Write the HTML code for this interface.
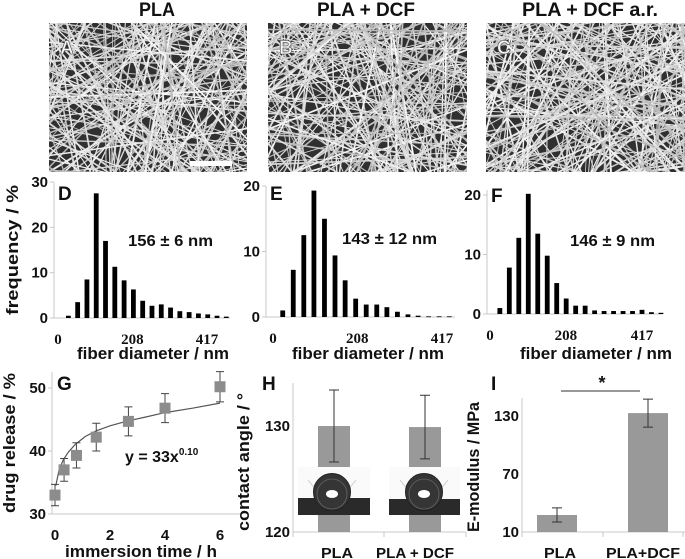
<!DOCTYPE html>
<html><head><meta charset="utf-8">
<style>
html,body{margin:0;padding:0;background:#fff;}
svg{display:block;}
text{font-family:"Liberation Sans Narrow","Liberation Sans",Arial,sans-serif;font-weight:bold;fill:#111;}
.serif{font-family:"Liberation Serif",serif;font-weight:bold;}
</style></head>
<body>
<svg id="fig" width="685" height="559" viewBox="0 0 685 559" xmlns="http://www.w3.org/2000/svg">
<defs>
<clipPath id="cA"><rect x="49" y="23" width="198" height="149"/></clipPath>
<clipPath id="cB"><rect x="268" y="23" width="199" height="149"/></clipPath>
<clipPath id="cC"><rect x="486" y="23" width="199" height="149"/></clipPath>
</defs>
<text x="157" y="16" font-size="19" text-anchor="middle" textLength="36" lengthAdjust="spacingAndGlyphs">PLA</text>
<text x="366" y="16" font-size="19" text-anchor="middle" textLength="98" lengthAdjust="spacingAndGlyphs">PLA + DCF</text>
<text x="590" y="16" font-size="19" text-anchor="middle" textLength="136" lengthAdjust="spacingAndGlyphs">PLA + DCF a.r.</text>
<g id="sem"></g>
<g id="charts"></g>
</svg>
<script>
// ---------- data ----------
const dBins=[29,55,81,107,133,159,185,211,237,263,289,315,341,367,393,419,445,471];
const dFreq=[0.5,3.5,8.5,27.5,17,11.3,8.3,6.3,3.8,2.7,3,2.3,1.5,1.3,1,0.8,0.5,0.3];
const eBins=[24,50,76,101,127,153,178,204,230,256,281,307,333,358,384,410,435];
const eFreq=[1,7.2,12.5,19.3,15,9.4,5.6,2.8,1.9,1.9,1.5,0.8,0.4,0.2,0.1,0.1,0.1];
const fBins=[27,53,79,105,131,157,183,209,235,261,287,313,339,365,391,417,443,469];
const fFreq=[1,7.8,12.8,20.2,13.5,9.8,5.2,2.6,1.4,1.4,0.6,0.5,0.5,0.5,0.5,0.7,0.3,0.2];
const histTicksX=[0,208,417];
const gTime=[0,0.33,0.78,1.5,2.67,4,6];
const gRelease=[33,37,39.3,42.2,44.7,46.8,50.2];
const gErr=[1.7,1.8,2,2.2,2.3,2.3,2.4];
const gFitT=[0.03,0.15,0.3,0.5,0.75,1.1,1.5,2,2.67,3.3,4,5,6];
const gFitY=[34.5,37,38.6,39.9,41.1,42.3,43.2,44,44.8,45.4,46.1,46.8,47.6];
const gTicksY=[30,40,50];
const gTicksX=[0,2,4,6];
const hCats=["PLA","PLA + DCF"];
const hVals=[130,129.9];
const hErr=[3.4,3];
const hTicksY=[120,130];
const iCats=["PLA","PLA+DCF"];
const iVals=[27.6,133];
const iErr=[7.3,14.5];
const iTicksY=[10,70,130];

const NS="http://www.w3.org/2000/svg";
const root=document.getElementById('charts');
function mk(tag,attrs,parent,txt){const e=document.createElementNS(NS,tag);for(const k in attrs)e.setAttribute(k,attrs[k]);if(txt!==undefined)e.textContent=txt;(parent||root).appendChild(e);return e;}
function lin(d0,d1,r0,r1){return v=>r0+(v-d0)*(r1-r0)/(d1-d0);}
function catW(s){return s.length>5?(s.indexOf(' ')>0?78:74):32;}

// ---------- SEM textures ----------
let seed=12345;function rnd(){seed=(seed*1103515245+12345)%2147483648;return seed/2147483648;}
const sem=document.getElementById('sem');
[[49,247,'cA','A','sem-image-a'],[268,467,'cB','B','sem-image-b'],[486,686,'cC','C','sem-image-c']].forEach(p=>{
  const g=document.createElementNS(NS,'g');g.setAttribute('clip-path','url(#'+p[2]+')');
  
  
  sem.appendChild(g);
  mk('rect',{x:p[0],y:23,width:p[1]-p[0],height:149,fill:'#303030'},g);
  for(let i=0;i<220;i++){
    const x1=p[0]-40+rnd()*(p[1]-p[0]+80),y1=23-30+rnd()*210;
    const a=rnd()*Math.PI;const L=250;
    const c=Math.floor(185+rnd()*65);
    mk('line',{x1:x1-Math.cos(a)*L,y1:y1-Math.sin(a)*L,x2:x1+Math.cos(a)*L,y2:y1+Math.sin(a)*L,stroke:`rgb(${c},${c},${c})`,'stroke-width':(0.8+rnd()*1.1).toFixed(2)},g);
  }
  const t=mk('text',{x:p[0]+11,y:54,'font-size':19,style:'fill:#f6f6f6;stroke:#444;stroke-width:0.6'},sem,p[3]);
  
  
});
const sb=mk('rect',{x:190,y:161,width:42,height:5,fill:'#fff'},sem);



// ---------- histograms ----------
function hist(cfg){
  const g=mk('g',{});
  
  
  const y=lin(0,cfg.yMax,cfg.y0,cfg.yTop), x=lin(0,417,cfg.x0,cfg.x417);
  mk('line',{x1:cfg.ax,y1:cfg.axTop,x2:cfg.ax,y2:cfg.y0,stroke:'#c8c8c8','stroke-width':1},g);
  mk('line',{x1:cfg.ax,y1:cfg.y0,x2:cfg.xEnd,y2:cfg.y0,stroke:'#c8c8c8','stroke-width':1},g);
  cfg.ticks.forEach(v=>{
    mk('line',{x1:cfg.ax-4,y1:y(v),x2:cfg.ax,y2:y(v),stroke:'#c8c8c8'},g);
    const t=mk('text',{x:cfg.ax-6,y:y(v)+5,'font-size':15,'text-anchor':'end'},g,String(v));
    
    
  });
  cfg.bins.forEach((b,i)=>{
    const r=mk('rect',{x:x(b)-2.4,y:y(cfg.vals[i]),width:4.8,height:Math.max(0.8,cfg.y0-y(cfg.vals[i])),fill:'#000'},g);
    
    
  });
  histTicksX.forEach(v=>{
    const t=mk('text',{x:x(v),y:cfg.y0+26,'font-size':15,'text-anchor':'middle','class':'serif'},g,String(v));
    
    
  });
  const xt=mk('text',{x:cfg.titleX,y:359,'font-size':17,'text-anchor':'middle',textLength:152,lengthAdjust:'spacingAndGlyphs'},g,'fiber diameter / nm');
  
  
  const L=mk('text',{x:cfg.ax+4,y:cfg.letterY,'font-size':19},g,cfg.letter);
  
  
  const m=mk('text',{x:cfg.meanX,y:cfg.meanY,'font-size':16,textLength:cfg.meanW,lengthAdjust:'spacingAndGlyphs'},g,cfg.mean);
  
  
}
hist({name:'histogram-d',letter:'D',bins:dBins,vals:dFreq,yMax:30,y0:318,yTop:182,ax:54,axTop:182,xEnd:230,x0:58,x417:207,ticks:[0,10,20,30],titleX:153,letterY:200,mean:'156 ± 6 nm',meanX:128,meanY:246,meanW:85});
hist({name:'histogram-e',letter:'E',bins:eBins,vals:eFreq,yMax:20,y0:317,yTop:186,ax:266,axTop:186,xEnd:455,x0:273,x417:442,ticks:[0,10,20],titleX:368,letterY:200,mean:'143 ± 12 nm',meanX:342,meanY:244,meanW:95});
hist({name:'histogram-f',letter:'F',bins:fBins,vals:fFreq,yMax:20,y0:314,yTop:195,ax:487,axTop:190,xEnd:663,x0:490,x417:642,ticks:[0,10,20],titleX:596,letterY:202,mean:'146 ± 9 nm',meanX:570,meanY:246,meanW:85});
const fy=mk('text',{x:0,y:0,'font-size':17,'text-anchor':'middle',transform:'translate(18,250) rotate(-90)',textLength:130,lengthAdjust:'spacingAndGlyphs'},root,'frequency / %');



// ---------- G ----------
(function(){
  const g=mk('g',{});
  
  
  const x=lin(0,6,55,220), y=lin(30,50,514,388);
  mk('line',{x1:52,y1:372,x2:52,y2:514,stroke:'#c8c8c8'},g);
  mk('line',{x1:52,y1:514,x2:240,y2:514,stroke:'#c8c8c8'},g);
  gTicksY.forEach(v=>{mk('line',{x1:48,y1:y(v),x2:52,y2:y(v),stroke:'#c8c8c8'},g);
    const t=mk('text',{x:46,y:y(v)+5,'font-size':15,'text-anchor':'end'},g,String(v));
    
    });
  gTicksX.forEach(v=>{const t=mk('text',{x:x(v),y:540,'font-size':15,'text-anchor':'middle'},g,String(v));
    
    });
  let d='';gFitT.forEach((t,i)=>{d+=(i?'L':'M')+x(t).toFixed(1)+','+y(gFitY[i]).toFixed(1);});
  const fit=mk('path',{d:d,fill:'none',stroke:'#555','stroke-width':1.2},g);
  
  
  gTime.forEach((t,i)=>{
    const cx=x(t),cy=y(gRelease[i]),t1=y(gRelease[i]+gErr[i]),b1=y(gRelease[i]-gErr[i]);
    const e=mk('path',{d:`M${cx},${t1}V${b1}M${cx-4},${t1}H${cx+4}M${cx-4},${b1}H${cx+4}`,stroke:'#444','stroke-width':1,fill:'none'},g);
    
    
    const r=mk('rect',{x:cx-5.5,y:cy-5.5,width:11,height:11,fill:'#8c8c8c'},g);
    
    
  });
  const eq=mk('text',{x:125,y:462,'font-size':16},g);
  
  
  eq.innerHTML='y = 33x<tspan font-size="10" dy="-7">0.10</tspan>';
  const L=mk('text',{x:57,y:390,'font-size':19},g,'G');
  
  
  const yt=mk('text',{x:0,y:0,'font-size':17,'text-anchor':'middle',transform:'translate(15,443) rotate(-90)',textLength:140,lengthAdjust:'spacingAndGlyphs'},g,'drug release / %');
  
  
  const xt=mk('text',{x:141,y:557,'font-size':17,'text-anchor':'middle',textLength:152,lengthAdjust:'spacingAndGlyphs'},g,'immersion time / h');
  
  
})();

// ---------- H ----------
(function(){
  const g=mk('g',{});
  
  
  const y=lin(120,130,532,426);
  const bx=[334,425];
  const lx=[337,415];
  mk('line',{x1:293,y1:383,x2:293,y2:532,stroke:'#c8c8c8'},g);
  mk('line',{x1:293,y1:532,x2:466,y2:532,stroke:'#c8c8c8'},g);
  [293,384,466].forEach(v=>mk('line',{x1:v,y1:532,x2:v,y2:537,stroke:'#c8c8c8'},g));
  hTicksY.forEach(v=>{const t=mk('text',{x:290,y:y(v)+5,'font-size':15,'text-anchor':'end'},g,String(v));
    
    });
  hVals.forEach((v,i)=>{
    const r=mk('rect',{x:bx[i]-16,y:y(v),width:32,height:532-y(v),fill:'#999'},g);
    
    
    const t1=y(v+hErr[i]),b1=y(v-hErr[i]);
    const e=mk('path',{d:`M${bx[i]},${t1}V${b1}M${bx[i]-5},${t1}H${bx[i]+5}M${bx[i]-5},${b1}H${bx[i]+5}`,stroke:'#333','stroke-width':1,fill:'none'},g);
    
    
    const lb=mk('text',{x:lx[i]-catW(hCats[i])/2,y:558,'font-size':15,textLength:catW(hCats[i]),lengthAdjust:'spacingAndGlyphs'},g,hCats[i]);
    
    
  });
  [[298,370,332,498],[389,460,424,499]].forEach((p,k)=>{
    const pg=mk('g',{},g);
    
    
    mk('rect',{x:p[0],y:467,width:p[1]-p[0],height:48,fill:'#fafafa'},pg);
    mk('line',{x1:p[2]-24,y1:480,x2:p[2]-8,y2:500,stroke:'#ccc'},pg);
    mk('line',{x1:p[2]+24,y1:480,x2:p[2]+8,y2:500,stroke:'#ccc'},pg);
    mk('rect',{x:p[0],y:p[3],width:p[1]-p[0],height:515-p[3],fill:'#2a2a2a'},pg);
    mk('circle',{cx:p[2],cy:492,r:18.5,fill:'#353535',stroke:'#222','stroke-width':1},pg);
    mk('circle',{cx:p[2],cy:494,r:15,fill:'none',stroke:'#666','stroke-width':0.8},pg);
    mk('ellipse',{cx:p[2],cy:494,rx:6,ry:4,fill:'#fff'},pg);
  });
  const L=mk('text',{x:262,y:390,'font-size':19},g,'H');
  
  
  const yt=mk('text',{x:0,y:0,'font-size':17,'text-anchor':'middle',transform:'translate(249,462) rotate(-90)',textLength:138,lengthAdjust:'spacingAndGlyphs'},g,'contact angle / °');
  
  
})();

// ---------- I ----------
(function(){
  const g=mk('g',{});
  
  
  const y=lin(10,130,532,416);
  const bx=[557,648];
  const lx=[560,643];
  mk('line',{x1:522,y1:398,x2:522,y2:532,stroke:'#c8c8c8'},g);
  mk('line',{x1:522,y1:532,x2:685,y2:532,stroke:'#c8c8c8'},g);
  [522,603,683].forEach(v=>mk('line',{x1:v,y1:532,x2:v,y2:537,stroke:'#c8c8c8'},g));
  iTicksY.forEach(v=>{const t=mk('text',{x:519,y:y(v)+5,'font-size':15,'text-anchor':'end'},g,String(v));
    
    });
  iVals.forEach((v,i)=>{
    const r=mk('rect',{x:bx[i]-20,y:y(v),width:40,height:532-y(v),fill:'#999'},g);
    
    
    const t1=y(v+iErr[i]),b1=y(v-iErr[i]);
    const e=mk('path',{d:`M${bx[i]},${t1}V${b1}M${bx[i]-5},${t1}H${bx[i]+5}M${bx[i]-5},${b1}H${bx[i]+5}`,stroke:'#333','stroke-width':1,fill:'none'},g);
    
    
    const lb=mk('text',{x:lx[i]-catW(iCats[i])/2,y:558,'font-size':15,textLength:catW(iCats[i]),lengthAdjust:'spacingAndGlyphs'},g,iCats[i]);
    
    
  });
  const s=mk('line',{x1:561,y1:391,x2:640,y2:391,stroke:'#777','stroke-width':1.5},g);
  
  
  const st=mk('text',{x:602,y:389,'font-size':18,'text-anchor':'middle'},g,'*');
  
  
  const L=mk('text',{x:491,y:390,'font-size':19},g,'I');
  
  
  const yt=mk('text',{x:0,y:0,'font-size':17,'text-anchor':'middle',transform:'translate(479,467) rotate(-90)',textLength:130,lengthAdjust:'spacingAndGlyphs'},g,'E-modulus / MPa');
  
  
})();
</script>
</body></html>
